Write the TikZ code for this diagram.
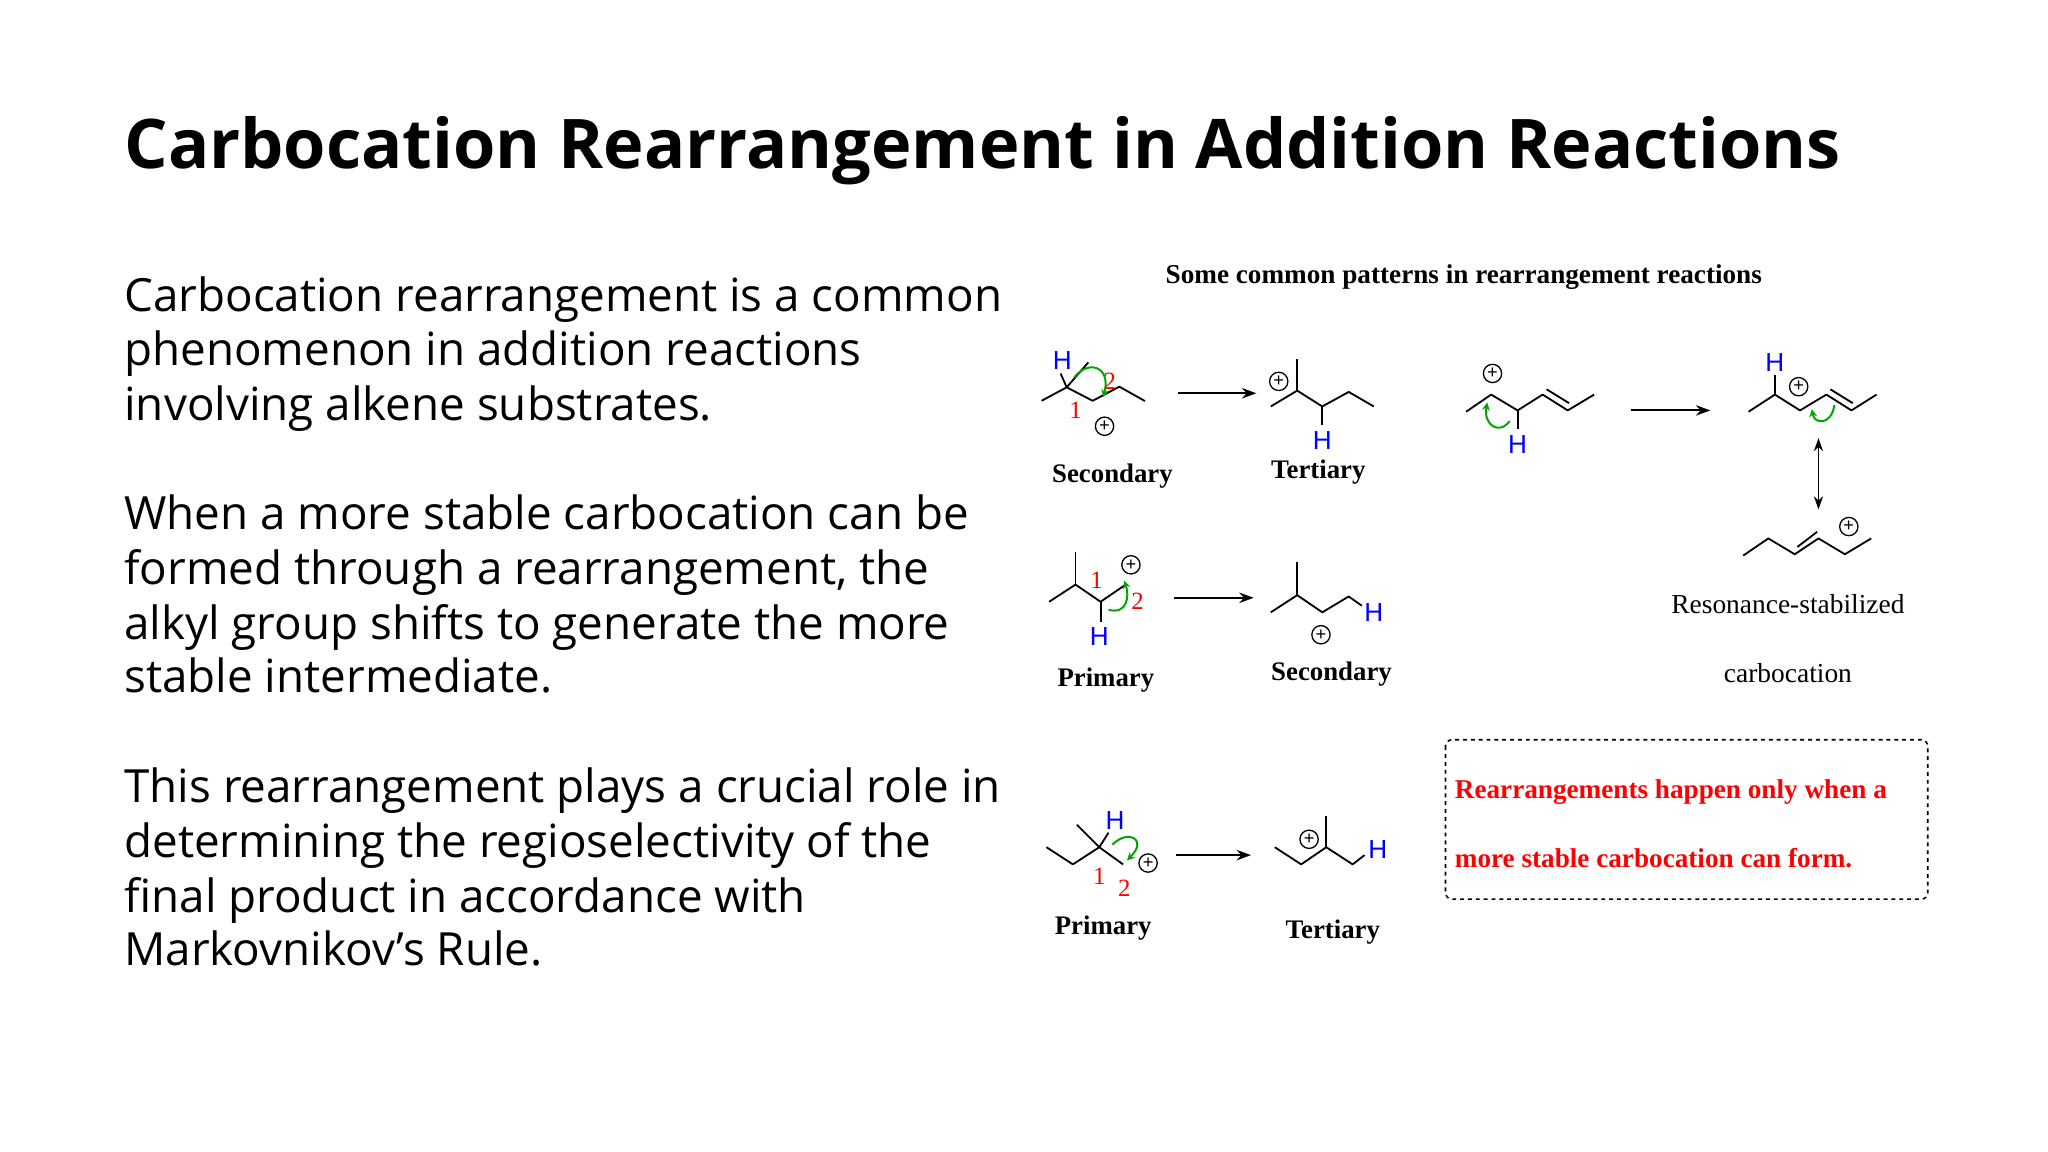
\documentclass[tikz,border=0pt]{standalone}
\usepackage{fontspec}
\setmainfont{Open Sans}
\newfontfamily\tnr{Liberation Serif}
\newfontfamily\hel{Liberation Sans}
\usetikzlibrary{arrows.meta}
\begin{document}
\begin{tikzpicture}[x=1pt,y=-1pt,
  bond/.style={line width=1.4pt,line join=round},
  rxn/.style={line width=1.4pt,-{Stealth[length=11pt,width=8pt]}},
  garr/.style={green!65!black,line width=1.5pt,-{Stealth[length=6pt,width=6pt]}},
  hlab/.style={text=blue,font=\hel\fontsize{20}{20}\selectfont,inner sep=0pt},
  num/.style={text=red,font=\tnr\fontsize{19}{19}\selectfont,inner sep=0pt},
  pc/.style={circle,draw,line width=1pt,minimum size=14pt,inner sep=0pt,font=\hel\fontsize{14}{14}\selectfont},
  lab/.style={font=\tnr\bfseries\fontsize{20.5}{21}\selectfont,inner sep=0pt},
  body/.style={anchor=base west,inner sep=0pt,font=\fontsize{35}{40}\selectfont}]
\useasboundingbox[fill=white] (0,0) rectangle (1567,881);
\node[anchor=base west,inner sep=0pt,font=\bfseries\fontsize{52.4}{55}\selectfont] (title) at (95,129) {Carbocation Rearrangement in Addition Reactions};
\node[body] (l1) at (95,238) {Carbocation rearrangement is a common};
\node[body] (l2) at (95,280) {phenomenon in addition reactions};
\node[body] (l3) at (95,322) {involving alkene substrates.};
\node[body] (l4) at (95,405) {When a more stable carbocation can be};
\node[body] (l5) at (95,447) {formed through a rearrangement, the};
\node[body] (l6) at (95,489) {alkyl group shifts to generate the more};
\node[body] (l7) at (95,530) {stable intermediate.};
\node[body] (l8) at (95,614) {This rearrangement plays a crucial role in};
\node[body] (l9) at (95,656) {determining the regioselectivity of the};
\node[body] (l10) at (95,698) {final product in accordance with};
\node[body] (l11) at (95,739) {Markovnikov's Rule.};
\node[font=\tnr\bfseries\fontsize{20.8}{21}\selectfont,inner sep=0pt] (hdr) at (1120,212) {Some common patterns in rearrangement reactions};
\begin{scope}[scale=1.0097]
% mol1 secondary
\draw[bond] (789.3,303.7)--(808.3,293.5)--(828,303.7)--(848.2,293)--(867.6,303.9);
\draw[bond] (808.3,293.5)--(824.7,274.6);
\draw[bond] (808.3,293.5)--(803.7,283);
\node[hlab] (h1) at (805,273) {H};
\node[num] (n1a) at (815,311) {1};
\node[num] (n1b) at (841,289) {2};
\node[pc] (p1) at (837,323) {+};
\draw[garr] (814,286) .. controls (825,272) and (842,278) .. (836,301);
\node[lab] (s1) at (843,361) {Secondary};
\draw[rxn] (893,298)--(952,298);
% mol2 tertiary
\draw[bond] (963,308)--(983,296)--(1002,308)--(1022,297)--(1041,308);
\draw[bond] (983,296)--(983,272);
\draw[bond] (1002,308)--(1002,322);
\node[hlab] (h2) at (1002,334) {H};
\node[pc] (p2) at (969,289) {+};
\node[lab] (s2) at (999,358) {Tertiary};
% mol5
\draw[bond] (1111,312)--(1130,299)--(1150,311)--(1169,299)--(1188,311)--(1208,299);
\draw[bond] (1172,295)--(1189,305.5);
\draw[bond] (1150,311)--(1150,325);
\node[hlab] (h5) at (1150,337) {H};
\node[pc] (p5) at (1131,283) {+};
\draw[garr] (1144,319) .. controls (1136,330) and (1124,322) .. (1127,305);
\draw[rxn] (1236,311)--(1296,311);
% mol6
\draw[bond] (1325,312)--(1345,299)--(1364,311)--(1384,299)--(1403,311)--(1422,299);
\draw[bond] (1387,295)--(1404,305.5);
\draw[bond] (1345,299)--(1345,284);
\node[hlab] (h6) at (1345,275) {H};
\node[pc] (p6) at (1363,293) {+};
\draw[garr] (1390,307) .. controls (1388,322) and (1375,322) .. (1373,310);
\draw[line width=1.4pt,{Stealth[length=10pt,width=7pt]}-{Stealth[length=10pt,width=7pt]}] (1378,332)--(1378,386);
% mol7
\draw[bond] (1321,421)--(1340,408)--(1360,420)--(1378,408)--(1398,420)--(1418,408);
\draw[bond] (1362,414.5)--(1377,403);
\node[pc] (p7) at (1401,399) {+};
% mol3 primary
\draw[bond] (795,456)--(815,443)--(834,456)--(853,443);
\draw[bond] (815,443)--(815,418);
\draw[bond] (834,456)--(834,471);
\node[hlab] (h3) at (833,482) {H};
\node[num] (n3a) at (831,440) {1};
\node[num] (n3b) at (862,456) {2};
\node[pc] (p3) at (857,428) {+};
\draw[garr] (840,462) .. controls (854,466) and (856,452) .. (852,440);
\node[lab] (s3) at (838,515) {Primary};
\draw[rxn] (890,453)--(950,453);
% mol4
\draw[bond] (963,464)--(983,451)--(1002,464)--(1022,452)--(1032,459);
\draw[bond] (983,451)--(983,426);
\node[hlab] (h4) at (1041,464) {H};
\node[pc] (p4) at (1001,481) {+};
\node[lab] (s4) at (1009,511) {Secondary};
% mol8 primary
\draw[bond] (793,642)--(813,655)--(833,642)--(851,655);
\draw[bond] (833,642)--(816,625);
\draw[bond] (833,642)--(840,631);
\node[hlab] (h8) at (845,622) {H};
\node[num] (n8a) at (833,664) {1};
\node[num] (n8b) at (852,673) {2};
\node[pc] (p8) at (870,654) {+};
\draw[garr] (843,640) .. controls (855,628) and (870,636) .. (854,652);
\node[lab] (s8) at (836,703) {Primary};
\draw[rxn] (891,648)--(948,648);
% mol9 tertiary
\draw[bond] (966,642)--(986,655)--(1005,642)--(1025,655)--(1034,648);
\draw[bond] (1005,642)--(1005,618);
\node[hlab] (h9) at (1044,644) {H};
\node[pc] (p9) at (992,636) {+};
\node[lab] (s9) at (1010,706) {Tertiary};
\end{scope}
\node[font=\tnr\fontsize{21}{21}\selectfont,inner sep=0pt] (r1) at (1368,462) {Resonance-stabilized};
\node[font=\tnr\fontsize{21}{21}\selectfont,inner sep=0pt] (r2) at (1368,515) {carbocation};
% box
\draw[dashed,line width=1.2pt,rounded corners=5pt] (1106,566) rectangle (1475,688);
\node[anchor=base west,text=red,font=\tnr\bfseries\fontsize{20.8}{21}\selectfont,inner sep=0pt] (b1) at (1113,611) {Rearrangements happen only when a};
\node[anchor=base west,text=red,font=\tnr\bfseries\fontsize{20.8}{21}\selectfont,inner sep=0pt] (b2) at (1113,664) {more stable carbocation can form.};
\end{tikzpicture}
\end{document}
